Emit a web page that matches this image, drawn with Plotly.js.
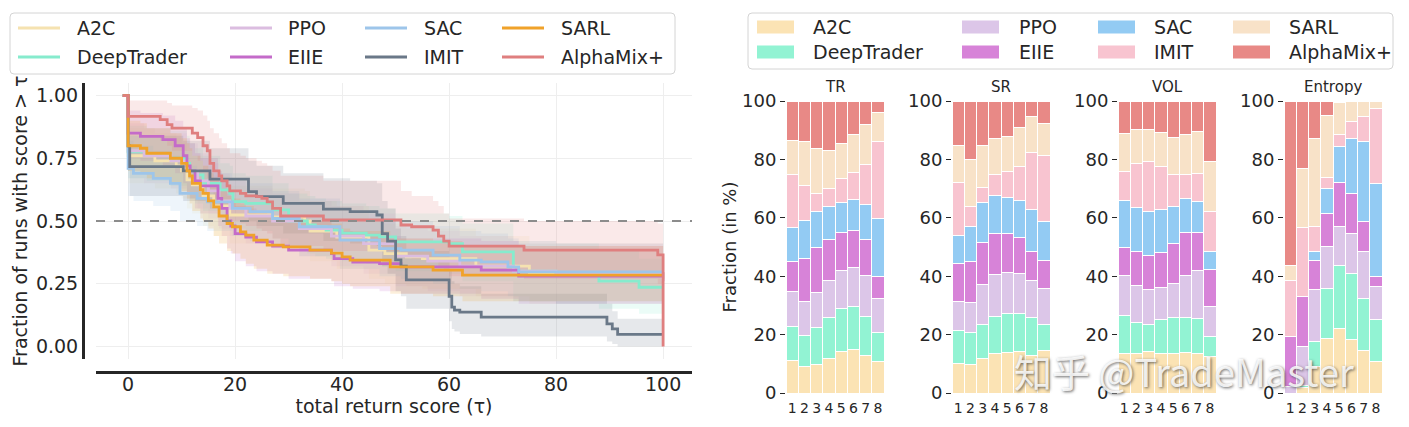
<!DOCTYPE html>
<html><head><meta charset="utf-8">
<script src="https://cdn.plot.ly/plotly-3.0.1.min.js"></script>
<style>html,body{margin:0;padding:0;background:#fff}#chart{width:1409px;height:427px}</style>
</head><body><div id="chart"></div>
<script>
// ---------- shared ----------
const methods = ['A2C','DeepTrader','PPO','EIIE','SAC','IMIT','SARL','AlphaMix+'];
const lineColors = ['#f5e2b0','#86ebcd','#dbbde0','#c46bc9','#9dc5ea','#6a7888','#f0a22a','#df7f7f'];
const barColors  = ['#fbe3b4','#92f3d3','#dcc6e8','#d783d8','#93cbf3','#f8c4d0','#f8e2c8','#e88986'];

// ---------- performance profiles (tau, fraction, CI low, CI high) ----------
const tauA2C = [-1,0,5,9,10,11,12,14,16,19,27,33,34,39,45,48,52,55,65,75,100];
const valA2C = [1.0,0.76,0.74,0.72,0.70,0.664,0.644,0.60,0.56,0.524,0.516,0.50,0.46,0.436,0.384,0.37,0.357,0.35,0.32,0.29,0.27];
const loA2C  = [1.0,0.65,0.63,0.61,0.59,0.55,0.53,0.48,0.44,0.41,0.40,0.38,0.34,0.31,0.27,0.25,0.24,0.23,0.20,0.17,0.15];
const hiA2C  = [1.0,0.87,0.85,0.83,0.81,0.78,0.76,0.72,0.68,0.64,0.63,0.62,0.58,0.56,0.50,0.49,0.47,0.47,0.44,0.41,0.39];

const tauDT = [-1,0,3.5,7.9,11,11.5,12.5,14,17.2,19,19.6,22,27,30,33.5,35,37,40,44.5,47,50,60,62.5,72,80,88,95.5,100];
const valDT = [1.0,0.776,0.764,0.75,0.73,0.70,0.684,0.65,0.624,0.61,0.577,0.57,0.544,0.50,0.484,0.477,0.464,0.452,0.444,0.437,0.417,0.41,0.377,0.30,0.29,0.26,0.236,0.236];
const loDT  = [1.0,0.67,0.66,0.64,0.62,0.59,0.57,0.54,0.51,0.50,0.47,0.46,0.43,0.39,0.37,0.36,0.35,0.34,0.33,0.32,0.30,0.29,0.26,0.18,0.17,0.15,0.13,0.13];
const hiDT  = [1.0,0.88,0.87,0.86,0.84,0.81,0.79,0.76,0.73,0.72,0.69,0.68,0.65,0.61,0.60,0.59,0.58,0.57,0.56,0.55,0.53,0.52,0.49,0.42,0.41,0.38,0.35,0.35];

const tauPPO = [-1,0,3,8,11,13,15,17,19,22,27,32,38,44,50,56,62,72,80,100];
const valPPO = [1.0,0.78,0.76,0.74,0.70,0.66,0.62,0.58,0.55,0.52,0.50,0.47,0.44,0.41,0.36,0.34,0.32,0.30,0.29,0.26];
const loPPO  = [1.0,0.67,0.65,0.63,0.59,0.55,0.51,0.47,0.44,0.41,0.39,0.36,0.32,0.29,0.24,0.22,0.20,0.18,0.17,0.14];
const hiPPO  = [1.0,0.89,0.87,0.85,0.81,0.77,0.73,0.69,0.66,0.63,0.61,0.58,0.56,0.53,0.48,0.46,0.44,0.42,0.41,0.38];

const tauEIIE = [-1,0,2.3,6.5,8.8,10.3,11,11.6,12.5,13.5,16.8,17.5,18.5,19.2,20,22,24,27,30,38,38.5,42,47,51,66,73,100];
const valEIIE = [1.0,0.85,0.837,0.824,0.80,0.76,0.72,0.70,0.66,0.64,0.59,0.55,0.50,0.48,0.45,0.436,0.417,0.40,0.384,0.37,0.35,0.336,0.33,0.317,0.304,0.28,0.28];
const loEIIE  = [1.0,0.75,0.74,0.72,0.69,0.65,0.61,0.59,0.55,0.53,0.48,0.44,0.39,0.37,0.34,0.32,0.30,0.29,0.27,0.26,0.24,0.23,0.22,0.21,0.19,0.17,0.17];
const hiEIIE  = [1.0,0.94,0.93,0.92,0.90,0.87,0.83,0.81,0.77,0.75,0.70,0.66,0.61,0.59,0.56,0.55,0.53,0.51,0.50,0.48,0.46,0.45,0.44,0.43,0.42,0.40,0.40];

const tauSAC = [-1,0,1,4.7,7.9,9.7,12.9,14.8,19.5,22.8,27,32,39.6,47,51,57,62,66,71,73,100];
const valSAC = [1.0,0.71,0.69,0.67,0.65,0.61,0.59,0.576,0.55,0.537,0.51,0.477,0.424,0.39,0.384,0.364,0.344,0.337,0.317,0.297,0.297];
const loSAC  = [1.0,0.60,0.58,0.56,0.54,0.50,0.48,0.46,0.44,0.42,0.40,0.36,0.31,0.28,0.27,0.25,0.23,0.22,0.20,0.18,0.18];
const hiSAC  = [1.0,0.82,0.80,0.78,0.76,0.72,0.70,0.69,0.66,0.65,0.62,0.59,0.54,0.50,0.50,0.48,0.46,0.45,0.43,0.41,0.41];

const tauIMIT = [-1,0,0.3,10.3,15.3,22.5,24,29,36.5,41.5,46.5,47.5,48.5,50,51,52,60,60.5,61,62,66,89.5,90.5,91.5,100];
const valIMIT = [1.0,0.80,0.717,0.70,0.667,0.617,0.597,0.57,0.547,0.537,0.524,0.45,0.42,0.345,0.32,0.265,0.20,0.157,0.145,0.137,0.117,0.09,0.07,0.048,0.048];
const loIMIT  = [1.0,0.70,0.60,0.58,0.55,0.50,0.48,0.45,0.42,0.41,0.40,0.32,0.29,0.22,0.20,0.15,0.10,0.07,0.06,0.05,0.04,0.02,0.01,0.0,0.0];
const hiIMIT  = [1.0,0.90,0.84,0.82,0.79,0.74,0.72,0.69,0.67,0.66,0.65,0.58,0.55,0.47,0.44,0.38,0.30,0.26,0.25,0.24,0.21,0.17,0.14,0.11,0.11];

const tauSARL = [-1,0,2.3,3.5,7.9,10,11,11.5,12,13.5,14,15,16,17,18.5,19.5,21,22,23.5,26,29,34,38,40,41.5,49,57,62.5,100];
const valSARL = [1.0,0.80,0.79,0.77,0.75,0.73,0.70,0.68,0.65,0.625,0.61,0.58,0.556,0.52,0.49,0.477,0.457,0.444,0.424,0.404,0.397,0.384,0.372,0.357,0.344,0.317,0.304,0.284,0.284];
const loSARL  = [1.0,0.70,0.69,0.67,0.65,0.62,0.59,0.57,0.54,0.51,0.50,0.47,0.44,0.41,0.38,0.37,0.35,0.33,0.31,0.29,0.28,0.27,0.26,0.25,0.24,0.21,0.20,0.18,0.18];
const hiSARL  = [1.0,0.90,0.89,0.87,0.85,0.83,0.81,0.79,0.76,0.74,0.72,0.69,0.67,0.63,0.60,0.59,0.57,0.56,0.54,0.52,0.51,0.50,0.49,0.47,0.46,0.43,0.42,0.40,0.40];

const tauAM = [-1,0,6,7.3,8.2,12,13,14,14.8,15.3,16,17,17.5,18.5,19,21,22,24,25,26,27,28.5,36.5,51,53,57,58,59,60,74,99,100];
const valAM = [1.0,0.917,0.904,0.884,0.87,0.85,0.832,0.80,0.78,0.73,0.70,0.68,0.66,0.64,0.62,0.61,0.60,0.597,0.59,0.576,0.55,0.52,0.504,0.484,0.477,0.464,0.44,0.42,0.40,0.384,0.365,0.0];
const loAM  = [1.0,0.84,0.82,0.80,0.78,0.76,0.74,0.70,0.67,0.62,0.59,0.57,0.55,0.52,0.50,0.49,0.48,0.47,0.46,0.45,0.43,0.40,0.38,0.36,0.35,0.34,0.32,0.30,0.28,0.27,0.25,0.0];
const hiAM  = [1.0,0.98,0.98,0.97,0.96,0.95,0.94,0.92,0.90,0.87,0.85,0.83,0.81,0.79,0.77,0.76,0.75,0.74,0.73,0.72,0.70,0.68,0.66,0.62,0.60,0.58,0.56,0.53,0.51,0.50,0.49,0.0];

const xTicksLeft = [0,20,40,60,80,100];
const yTicksLeft = [0,0.25,0.5,0.75,1.0];

// ---------- stacked fractions (rows follow `methods`, columns = bars 1..8) ----------
const panels = ['TR','SR','VOL','Entropy'];
const barLabels = ['1','2','3','4','5','6','7','8'];
const fracTR = [
  [11.0,9.2,9.9,11.9,14.2,15.0,13.0,10.7],
  [11.7,10.4,12.5,13.9,14.7,14.6,13.1,10.0],
  [12.0,11.7,12.0,12.9,13.2,13.4,14.1,11.5],
  [10.3,14.8,15.4,14.0,12.8,12.5,12.4,7.6],
  [11.6,13.1,12.5,11.1,10.3,10.8,11.8,20.0],
  [18.3,11.7,6.1,6.1,8.3,9.3,13.7,26.3],
  [11.7,15.4,15.4,13.3,12.0,13.1,13.7,10.0],
  [13.4,13.7,16.2,16.8,14.5,11.3,8.2,3.9]];
const fracSR = [
  [10.2,9.9,11.9,13.6,13.8,14.2,12.7,14.5],
  [11.1,10.9,11.7,12.5,13.5,13.1,13.1,8.8],
  [10.0,10.3,13.4,14.5,13.9,13.7,12.9,12.5],
  [13.1,13.9,14.5,14.0,13.5,12.3,9.7,9.7],
  [9.7,12.0,13.7,13.2,12.3,12.6,14.3,13.2],
  [17.9,7.0,5.2,6.9,8.8,11.8,19.6,22.8],
  [12.9,16.0,14.5,12.5,12.2,13.2,12.3,10.9],
  [15.1,20.0,15.1,12.8,12.0,9.1,5.4,7.6]];
const fracVOL = [
  [13.6,13.6,14.2,13.6,13.6,13.8,13.6,12.4],
  [13.1,10.5,9.4,11.6,12.3,12.0,12.0,6.9],
  [13.4,12.7,11.9,11.0,11.7,14.6,16.2,10.3],
  [9.7,11.8,11.5,11.9,13.7,14.5,13.1,12.8],
  [16.0,14.9,15.1,14.8,12.7,11.8,10.6,6.0],
  [10.0,15.2,17.1,14.8,10.9,8.0,9.7,13.7],
  [13.1,11.4,10.9,11.5,12.7,14.0,14.3,17.1],
  [11.1,9.9,9.9,10.8,12.4,11.3,10.5,20.8]];
const fracEntropy = [
  [0,2.0,9.0,18.7,22.1,18.2,14.7,10.7],
  [0,0.7,8.6,17.1,21.7,22.8,17.7,14.5],
  [2.2,13.2,17.9,14.3,13.2,13.7,16.0,11.2],
  [17.1,17.1,10.0,11.4,15.0,13.7,10.3,3.4],
  [0,0,2.9,8.6,12.4,18.8,27.4,31.8],
  [19.4,23.6,8.6,3.6,4.0,5.7,8.5,25.9],
  [4.8,20.4,30.2,21.5,11.0,7.1,5.4,2.5],
  [56.5,23.0,12.8,4.8,0.6,0,0,0]];
const yTicksBar = [0,20,40,60,80,100];

// ---------- build ----------
const W = 1409, H = 427;
const fx = p => p / W, fy = p => 1 - p / H;
const TXT = '#262626', FONT = 'DejaVu Sans, sans-serif';
function rgba(hex, a){const n=parseInt(hex.slice(1),16);return `rgba(${n>>16&255},${n>>8&255},${n&255},${a})`;}

const profiles = [
  [tauA2C,valA2C,loA2C,hiA2C],[tauDT,valDT,loDT,hiDT],[tauPPO,valPPO,loPPO,hiPPO],
  [tauEIIE,valEIIE,loEIIE,hiEIIE],[tauSAC,valSAC,loSAC,hiSAC],[tauIMIT,valIMIT,loIMIT,hiIMIT],
  [tauSARL,valSARL,loSARL,hiSARL],[tauAM,valAM,loAM,hiAM]];

const traces = [];
profiles.forEach((p,i)=>{
  traces.push({x:p[0],y:p[2],type:'scatter',mode:'lines',line:{width:0,shape:'hv',color:lineColors[i]},
    xaxis:'x',yaxis:'y',showlegend:false,hoverinfo:'skip'});
  traces.push({x:p[0],y:p[3],type:'scatter',mode:'lines',line:{width:0,shape:'hv',color:lineColors[i]},
    fill:'tonexty',fillcolor:rgba(lineColors[i],0.17),xaxis:'x',yaxis:'y',showlegend:false,hoverinfo:'skip'});
});
profiles.forEach((p,i)=>{
  traces.push({x:p[0],y:p[1],type:'scatter',mode:'lines',name:methods[i],
    line:{width:2.8,shape:'hv',color:lineColors[i]},xaxis:'x',yaxis:'y',showlegend:false});
});

const fracs = [fracTR,fracSR,fracVOL,fracEntropy];
fracs.forEach((f,pi)=>{
  f.forEach((row,mi)=>{
    traces.push({type:'bar',x:[1,2,3,4,5,6,7,8],y:row,name:methods[mi],
      marker:{color:barColors[mi],line:{color:'#ffffff',width:1}},
      xaxis:'x'+(pi+2),yaxis:'y'+(pi+2),showlegend:false});
  });
});

const layout = {
  width:W,height:H,margin:{l:0,r:0,t:0,b:0},paper_bgcolor:'#fff',plot_bgcolor:'#fff',
  font:{family:FONT,color:TXT},barmode:'stack',bargap:0,showlegend:false,
  xaxis:{domain:[fx(96),fx(692)],range:[-6,105.4],anchor:'free',position:fy(372),
    showline:true,linewidth:2.6,linecolor:TXT,tickvals:xTicksLeft,ticks:'',ticklabelstandoff:-5,
    showgrid:true,gridcolor:'#eeeeee',gridwidth:1,zeroline:false,tickfont:{size:19},
    title:{text:'total return score (τ)',font:{size:19},standoff:0},automargin:false},
  yaxis:{domain:[fy(359),fy(83)],range:[-0.05,1.05],anchor:'free',position:fx(83),
    showline:true,linewidth:2.6,linecolor:TXT,tickvals:yTicksLeft,tickformat:'.2f',ticks:'',
    showgrid:true,gridcolor:'#eeeeee',gridwidth:1,zeroline:false,tickfont:{size:19},
    title:{text:'Fraction of runs with score > τ',font:{size:19},standoff:2},automargin:false},
  shapes:[],annotations:[]
};
const pX = [786,952,1118,1284];
panels.forEach((name,pi)=>{
  const k = pi+2;
  layout['xaxis'+k] = {domain:[fx(pX[pi]),fx(pX[pi]+98)],anchor:'y'+k,range:[0.5,8.5],
    tickvals:[1,2,3,4,5,6,7,8],ticktext:barLabels,ticks:'',ticklabelstandoff:5,showgrid:false,zeroline:false,
    showline:false,tickfont:{size:14},automargin:false};
  layout['yaxis'+k] = {domain:[fy(393),fy(101)],anchor:'x'+k,range:[0,100],tickvals:yTicksBar,
    ticks:'outside',ticklen:5,tickwidth:1,tickcolor:TXT,showgrid:false,zeroline:false,showline:false,
    tickfont:{size:18},automargin:false};
  layout.annotations.push({text:name,xref:'paper',yref:'paper',x:fx(pX[pi]+49),y:fy(87),
    xanchor:'center',yanchor:'middle',showarrow:false,font:{size:15,color:TXT}});
});
layout.yaxis2.title = {text:'Fraction (in %)',font:{size:18},standoff:0};

// dashed 0.5 reference
layout.shapes.push({type:'line',xref:'x domain',yref:'y',x0:0,x1:1,y0:0.5,y1:0.5,layer:'above',
  line:{color:'#8c8c8c',width:2,dash:'dash'}});

// legends (manual, matplotlib-like)
function roundRect(x0,y0,x1,y1,r){
  return `M${fx(x0+r)},${fy(y0)} L${fx(x1-r)},${fy(y0)} Q${fx(x1)},${fy(y0)} ${fx(x1)},${fy(y0+r)} L${fx(x1)},${fy(y1-r)} Q${fx(x1)},${fy(y1)} ${fx(x1-r)},${fy(y1)} L${fx(x0+r)},${fy(y1)} Q${fx(x0)},${fy(y1)} ${fx(x0)},${fy(y1-r)} L${fx(x0)},${fy(y0+r)} Q${fx(x0)},${fy(y0)} ${fx(x0+r)},${fy(y0)} Z`;
}
layout.shapes.push({type:'path',xref:'paper',yref:'paper',path:roundRect(10,13,675,74,4),
  line:{color:'#d4d4d4',width:1},fillcolor:'rgba(255,255,255,0.9)'});
layout.shapes.push({type:'path',xref:'paper',yref:'paper',path:roundRect(748,13,1393,69,4),
  line:{color:'#d4d4d4',width:1},fillcolor:'rgba(255,255,255,0.9)'});
const legL = {sym:[18,230,365,502],txt:[75,286,422,559],row:[28,57]};
const legR = {sym:[757,962,1098,1233],txt:[811,1017,1152,1287],row:[27,52]};
methods.forEach((m,i)=>{
  const c = Math.floor(i/2), r = i%2;
  layout.shapes.push({type:'line',xref:'paper',yref:'paper',x0:fx(legL.sym[c]),x1:fx(legL.sym[c]+42),
    y0:fy(legL.row[r]),y1:fy(legL.row[r]),line:{color:lineColors[i],width:3}});
  layout.annotations.push({text:m,xref:'paper',yref:'paper',x:fx(legL.txt[c]),y:fy(legL.row[r]),
    xanchor:'left',yanchor:'middle',showarrow:false,font:{size:19,color:TXT}});
  layout.shapes.push({type:'rect',xref:'paper',yref:'paper',x0:fx(legR.sym[c]),x1:fx(legR.sym[c]+37),
    y0:fy(legR.row[r]+6.5),y1:fy(legR.row[r]-6.5),line:{width:0},fillcolor:barColors[i]});
  layout.annotations.push({text:m,xref:'paper',yref:'paper',x:fx(legR.txt[c]),y:fy(legR.row[r]),
    xanchor:'left',yanchor:'middle',showarrow:false,font:{size:19,color:TXT}});
});

// watermark
layout.annotations.push({text:'知乎 @TradeMaster',xref:'paper',yref:'paper',x:fx(1184),y:fy(370),
  xanchor:'center',yanchor:'middle',showarrow:false,
  font:{family:'Noto Sans CJK SC, Noto Sans, sans-serif',size:38,color:'rgba(255,255,255,0.85)',
    shadow:'1px 1px 3px rgba(60,60,60,0.9)'}});

Plotly.newPlot('chart',traces,layout,{displayModeBar:false,staticPlot:true});
</script></body></html>
